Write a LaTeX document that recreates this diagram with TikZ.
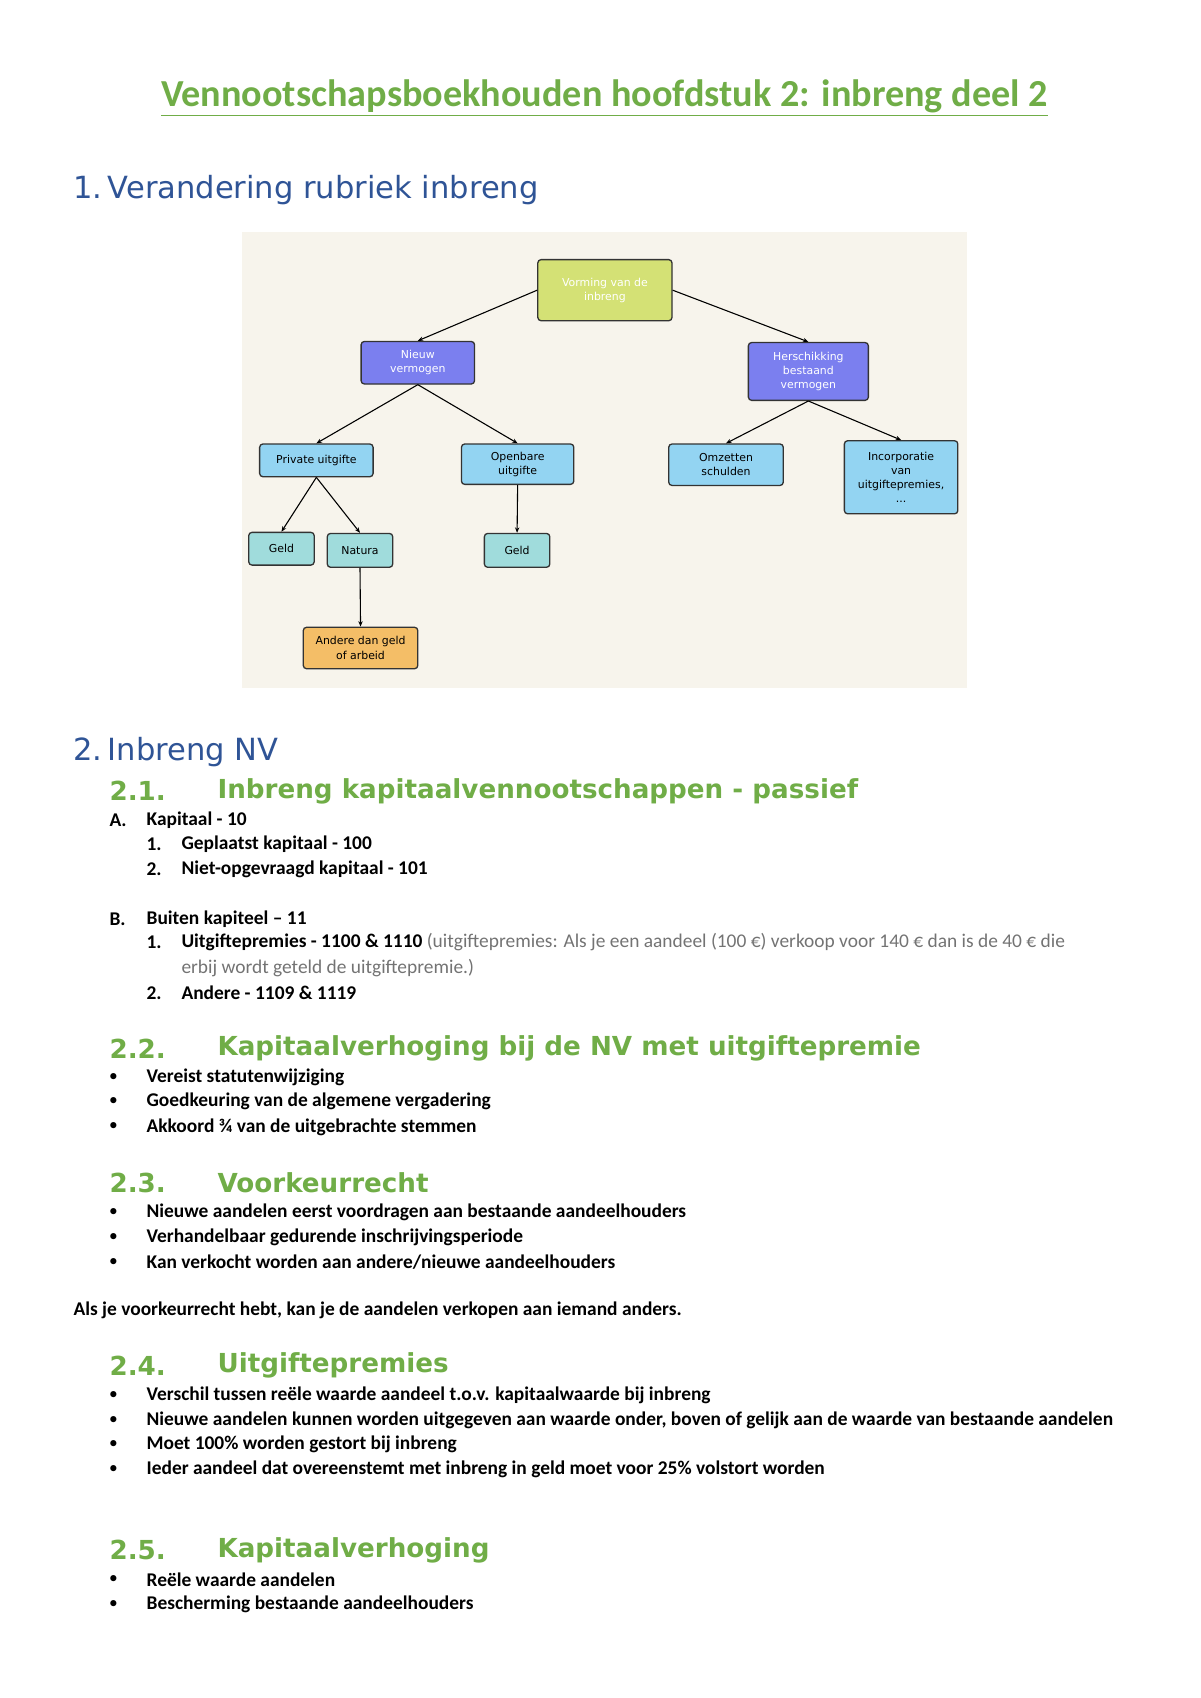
\documentclass[tikz,border=0pt]{standalone}
\usepackage{fontspec}
\setmainfont{Carlito}
\newfontfamily\dv{DejaVu Sans}
\usetikzlibrary{arrows.meta}
\definecolor{tgreen}{RGB}{112,173,71}
\definecolor{tblue}{RGB}{47,84,150}
\definecolor{bgc}{RGB}{247,244,236}
\definecolor{lime}{RGB}{212,225,117}
\definecolor{purp}{RGB}{123,127,239}
\definecolor{lblue}{RGB}{147,212,242}
\definecolor{teal}{RGB}{160,220,220}
\definecolor{orng}{RGB}{244,190,103}
\tikzset{
 box/.style={draw=black!80,line width=0.6pt,rounded corners=1.5pt,align=center,font=\dv\fontsize{5}{6.5}\selectfont,inner sep=0pt},
 conn/.style={-{Stealth[length=2.5pt,width=2pt]},line width=0.5pt},
 h1/.style={anchor=west,text=tblue,font=\dv\fontsize{14}{16}\selectfont,inner sep=0pt},
 h2/.style={anchor=west,text=tgreen,font=\dv\bfseries\fontsize{12}{14}\selectfont,inner sep=0pt},
 body/.style={anchor=west,font=\bfseries\fontsize{8.9}{10}\selectfont,inner sep=0pt},
 bul/.style={anchor=center,font=\fontsize{8}{10}\selectfont,inner sep=0pt}
}
\begin{document}
\begin{tikzpicture}[x=0.5pt,y=-0.5pt]
\useasboundingbox (0,0) rectangle (1100,1556.5);
\node[anchor=center,text=tgreen,font=\bfseries\fontsize{17.5}{20}\selectfont,inner sep=0pt] (title) at (554,90) {\underline{Vennootschapsboekhouden hoofdstuk 2: inbreng deel 2}};
\node[h1] (s1) at (67,174) {1.\,Verandering rubriek inbreng};
% diagram
\fill[bgc] (222,213) rectangle (886,631);
\node[box,fill=lime,text=white,minimum width=61.5pt,minimum height=28pt] (vorm) at (554.5,266) {Vorming van de\\inbreng};
\node[box,fill=purp,text=white,minimum width=52pt,minimum height=19.5pt] (nieuw) at (383,332.5) {Nieuw\\vermogen};
\node[box,fill=purp,text=white,minimum width=55pt,minimum height=26.5pt] (hers) at (741,340.5) {Herschikking\\bestaand\\vermogen};
\node[box,fill=lblue,minimum width=52pt,minimum height=15pt] (priv) at (290,422) {Private uitgifte};
\node[box,fill=lblue,minimum width=51.5pt,minimum height=18.5pt] (open) at (474.5,425.5) {Openbare\\uitgifte};
\node[box,fill=lblue,minimum width=52.5pt,minimum height=19pt] (omz) at (665.5,426) {Omzetten\\schulden};
\node[box,fill=lblue,minimum width=52pt,minimum height=33.5pt] (inc) at (826,437.5) {Incorporatie\\van\\uitgiftepremies,\\...};
\node[box,fill=teal,minimum width=30pt,minimum height=15pt] (geld1) at (258,503) {Geld};
\node[box,fill=teal,minimum width=30pt,minimum height=15.5pt] (nat) at (330,504.5) {Natura};
\node[box,fill=teal,minimum width=30pt,minimum height=15.5pt] (geld2) at (474,504.5) {Geld};
\node[box,fill=orng,minimum width=52.5pt,minimum height=19pt] (andere) at (330.5,594) {Andere dan geld\\of arbeid};
\draw[conn] (vorm.west) -- (nieuw.north);
\draw[conn] (vorm.east) -- (hers.north);
\draw[conn] (nieuw.south) -- (priv.north);
\draw[conn] (nieuw.south) -- (open.north);
\draw[conn] (hers.south) -- (omz.north);
\draw[conn] (hers.south) -- (inc.north);
\draw[conn] (priv.south) -- (geld1.north);
\draw[conn] (priv.south) -- (nat.north);
\draw[conn] (open.south) -- (geld2.north);
\draw[conn] (nat.south) -- (andere.north);
% section 2
\begin{scope}[yshift=2pt]
\node[h1] (s2) at (67,693) {2.\,Inbreng NV};
\node[h2] (n21) at (100,729) {2.1.};
\node[h2] (t21) at (199,729) {Inbreng kapitaalvennootschappen - passief};
\node[body] (la) at (100,756) {A.};
\node[body] (ta) at (134,756) {Kapitaal - 10};
\node[body] (la1) at (134,778) {1.};
\node[body] (ta1) at (166,778) {Geplaatst kapitaal - 100};
\node[body] (la2) at (134,801) {2.};
\node[body] (ta2) at (166,801) {Niet-opgevraagd kapitaal - 101};
\node[body] (lb) at (100,847) {B.};
\node[body] (tb) at (134,847) {Buiten kapiteel – 11};
\node[body] (lb1) at (134,868) {1.};
\node[body] (tb1) at (166,868) {Uitgiftepremies - 1100 \& 1110 {\mdseries\color{black!55}(uitgiftepremies: Als je een aandeel (100 €) verkoop voor 140 € dan is de 40 € die}};
\node[body,text=black!55,font=\fontsize{8.9}{10}\selectfont] (tb1b) at (166,891) {erbij wordt geteld de uitgiftepremie.)};
\node[body] (lb2) at (134,914) {2.};
\node[body] (tb2) at (166,914) {Andere - 1109 \& 1119};
\node[h2] (n22) at (100,965) {2.2.};
\node[h2] (t22) at (199,965) {Kapitaalverhoging bij de NV met uitgiftepremie};
\node[bul] (b1) at (104,992) {•}; \node[body] (c1) at (134,992) {Vereist statutenwijziging};
\node[bul] (b2) at (104,1014) {•}; \node[body] (c2) at (134,1014) {Goedkeuring van de algemene vergadering};
\node[bul] (b3) at (104,1037) {•}; \node[body] (c3) at (134,1037) {Akkoord ¾ van de uitgebrachte stemmen};
\node[h2] (n23) at (100,1088) {2.3.};
\node[h2] (t23) at (199,1088) {Voorkeurrecht};
\node[bul] (b4) at (104,1115) {•}; \node[body] (c4) at (134,1115) {Nieuwe aandelen eerst voordragen aan bestaande aandeelhouders};
\node[bul] (b5) at (104,1138) {•}; \node[body] (c5) at (134,1138) {Verhandelbaar gedurende inschrijvingsperiode};
\node[bul] (b6) at (104,1161) {•}; \node[body] (c6) at (134,1161) {Kan verkocht worden aan andere/nieuwe aandeelhouders};
\node[body] (p1) at (67,1205) {Als je voorkeurrecht hebt, kan je de aandelen verkopen aan iemand anders.};
\node[h2] (n24) at (100,1256) {2.4.};
\node[h2] (t24) at (199,1256) {Uitgiftepremies};
\node[bul] (b7) at (104,1283) {•}; \node[body] (c7) at (134,1283) {Verschil tussen reële waarde aandeel t.o.v. kapitaalwaarde bij inbreng};
\node[bul] (b8) at (104,1306) {•}; \node[body] (c8) at (134,1306) {Nieuwe aandelen kunnen worden uitgegeven aan waarde onder, boven of gelijk aan de waarde van bestaande aandelen};
\node[bul] (b9) at (104,1328) {•}; \node[body] (c9) at (134,1328) {Moet 100\% worden gestort bij inbreng};
\node[bul] (b10) at (104,1351) {•}; \node[body] (c10) at (134,1351) {Ieder aandeel dat overeenstemt met inbreng in geld moet voor 25\% volstort worden};
\node[h2] (n25) at (100,1425) {2.5.};
\node[h2] (t25) at (199,1425) {Kapitaalverhoging};
\node[bul] (b11) at (104,1452) {•}; \node[body] (c11) at (134,1452) {Reële waarde aandelen};
\node[bul] (b12) at (104,1475) {•}; \node[body] (c12) at (134,1475) {Bescherming bestaande aandeelhouders};
\end{scope}
\end{tikzpicture}
\end{document}
